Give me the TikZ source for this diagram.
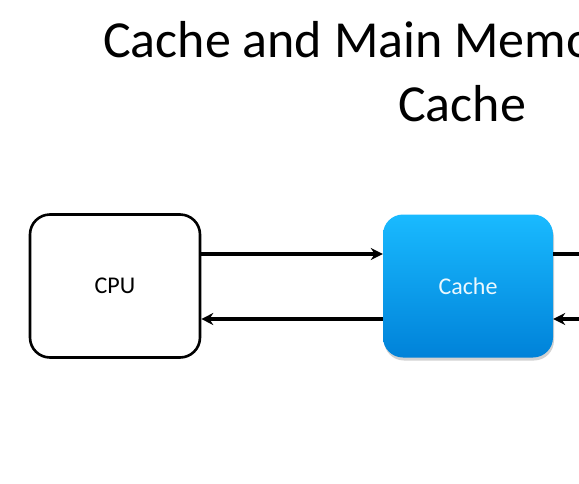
\documentclass[tikz,border=0pt]{standalone}
\usepackage{fontspec}
\setmainfont{Carlito}
\usepackage{tikz}
\usetikzlibrary{positioning,arrows.meta,shadows}

\tikzset{
  unitbox/.style={rounded corners=20pt, minimum width=170pt, minimum height=143pt,
    inner sep=0pt, font=\fontsize{24}{28}\selectfont},
  busline/.style={line width=3.6pt, -{Stealth[length=12pt,width=12pt]}},
}

\begin{document}
\begin{tikzpicture}[x=1pt,y=-1pt]
  % page frame
  \clip (0,0) rectangle (579,483);
  \fill[white] (0,0) rectangle (579,483);

  % title
  \node[anchor=base west, inner sep=0pt, font=\fontsize{52}{60}\selectfont] (title) at (103,57) {Cache and Main Memory};
  \node[anchor=base, inner sep=0pt, font=\fontsize{52}{60}\selectfont] (subtitle) at (462,121) {Cache};

  % units
  \node[unitbox, draw, line width=2.6pt, fill=white] (cpu) at (115,286) {CPU};
  \node[unitbox, top color=cyan!70!blue!90, bottom color=cyan!60!blue!85!black,
        drop shadow={opacity=0.35, shadow xshift=1pt, shadow yshift=-3pt},
        text=cyan!8] (cache) at (468,286) {Cache};

  % towards main memory (off the page)
  \coordinate (mem up) at (600,254);
  \coordinate (mem down) at (600,319);

  % connectors
  \draw[busline] ([yshift=32pt]cpu.east) -- ([yshift=32pt]cache.west);
  \draw[busline] ([yshift=-33pt]cache.west) -- ([yshift=-33pt]cpu.east);
  \draw[line width=3.6pt] ([yshift=32pt]cache.east) -- (mem up);
  \draw[busline] (mem down) -- ([yshift=-33pt]cache.east);
\end{tikzpicture}
\end{document}
